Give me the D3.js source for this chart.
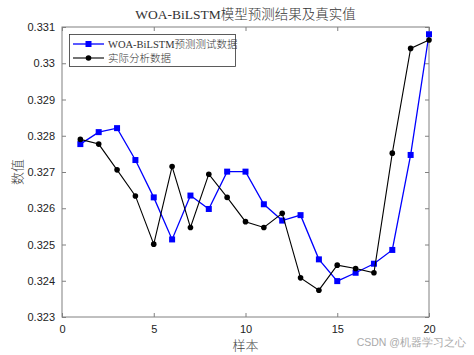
<!DOCTYPE html>
<html><head><meta charset="utf-8">
<script src="https://cdn.jsdelivr.net/npm/d3@7"></script>
<style>body{margin:0;background:#fff}svg{display:block}</style>
</head><body><div id="chart"></div>
<script>
const samples = [1,2,3,4,5,6,7,8,9,10,11,12,13,14,15,16,17,18,19,20];
const predicted = [0.32777,0.32810,0.32821,0.32733,0.32630,0.32514,0.32635,0.32598,0.32701,0.32701,0.32611,0.32566,0.32581,0.32459,0.32399,0.32422,0.32447,0.32485,0.32747,0.33080];
const actual = [0.32790,0.32777,0.32706,0.32634,0.32501,0.32715,0.32547,0.32694,0.32630,0.32563,0.32547,0.32586,0.32408,0.32374,0.32443,0.32434,0.32422,0.32752,0.33041,0.33064];
const xTicks = [0,5,10,15,20];
const yTicks = [0.323,0.324,0.325,0.326,0.327,0.328,0.329,0.33,0.331];
const yTickLabels = ["0.323","0.324","0.325","0.326","0.327","0.328","0.329","0.33","0.331"];
const seriesNames = ["WOA-BiLSTM预测测试数据","实际分析数据"];
const title = "WOA-BiLSTM模型预测结果及真实值";

const W = 474, H = 355;
const L = 62, R = 429, T = 27, B = 317;
const svg = d3.select("#chart").append("svg").attr("width", W).attr("height", H);
const x = d3.scaleLinear().domain([0,20]).range([L,R]);
const y = d3.scaleLinear().domain([0.323,0.331]).range([B,T]);
const axisColor = "#808080";
const sans = "'Liberation Sans', Arial, sans-serif";
const serif = "'Liberation Serif', 'Times New Roman', 'Noto Sans CJK SC', serif";

// box
svg.append("rect").attr("x",L).attr("y",T).attr("width",R-L).attr("height",B-T)
  .attr("fill","none").attr("stroke",axisColor).attr("stroke-width",1);

const tl = 4;
const gx = svg.append("g").attr("transform",`translate(0,${B})`)
  .call(d3.axisBottom(x).tickValues(xTicks).tickSize(-tl).tickPadding(8).tickFormat(d3.format("d")));
const gxt = svg.append("g").attr("transform",`translate(0,${T})`)
  .call(d3.axisTop(x).tickValues(xTicks).tickSize(-tl).tickFormat(""));
const gy = svg.append("g").attr("transform",`translate(${L},0)`)
  .call(d3.axisLeft(y).tickValues(yTicks).tickSize(-tl).tickPadding(7).tickFormat((d,i)=>yTickLabels[i]));
const gyr = svg.append("g").attr("transform",`translate(${R},0)`)
  .call(d3.axisRight(y).tickValues(yTicks).tickSize(-tl).tickFormat(""));
[gx,gxt,gy,gyr].forEach(g=>{
  g.select(".domain").remove();
  g.selectAll(".tick line").attr("stroke",axisColor);
  g.selectAll("text").attr("fill","#222").style("font-family",sans).style("font-size","11px");
});

// lines
const line = d3.line().x((d,i)=>x(samples[i])).y(d=>y(d));
svg.append("path").datum(predicted).attr("d",line).attr("fill","none")
  .attr("stroke","#0000ff").attr("stroke-width",1.3);
svg.append("g").selectAll("rect").data(predicted).join("rect")
  .attr("x",(d,i)=>x(samples[i])-3).attr("y",d=>y(d)-3).attr("width",6).attr("height",6)
  .attr("fill","#0000ff");
svg.append("path").datum(actual).attr("d",line).attr("fill","none")
  .attr("stroke","#000").attr("stroke-width",1.1);
svg.append("g").selectAll("circle").data(actual).join("circle")
  .attr("cx",(d,i)=>x(samples[i])).attr("cy",d=>y(d)).attr("r",2.8).attr("fill","#000");

// title
svg.append("text").attr("x",(L+R)/2).attr("y",19).attr("text-anchor","middle")
  .style("font-family",serif).style("font-size","13.5px").style("font-weight","300").attr("fill","#333").text(title);
// axis labels
svg.append("text").attr("x",(L+R)/2).attr("y",350).attr("text-anchor","middle")
  .style("font-family",serif).style("font-size","13px").style("font-weight","300").attr("fill","#444").text("样本");
svg.append("text").attr("transform",`translate(22,${(T+B)/2}) rotate(-90)`).attr("text-anchor","middle")
  .style("font-family",serif).style("font-size","13px").style("font-weight","300").attr("fill","#444").text("数值");

// legend
const lg = svg.append("g");
lg.append("rect").attr("x",69.5).attr("y",34.5).attr("width",166).attr("height",32)
  .attr("fill","#fff").attr("stroke","#333").attr("stroke-width",0.8);
const ly = [44, 58];
lg.append("line").attr("x1",73).attr("x2",104).attr("y1",ly[0]).attr("y2",ly[0]).attr("stroke","#0000ff").attr("stroke-width",1.3);
lg.append("rect").attr("x",85.5).attr("y",ly[0]-3).attr("width",6).attr("height",6).attr("fill","#0000ff");
lg.append("line").attr("x1",73).attr("x2",104).attr("y1",ly[1]).attr("y2",ly[1]).attr("stroke","#000").attr("stroke-width",1.1);
lg.append("circle").attr("cx",88.5).attr("cy",ly[1]).attr("r",2.8).attr("fill","#000");
seriesNames.forEach((n,i)=>{
  lg.append("text").attr("x",108).attr("y",ly[i]+4).style("font-family",serif)
    .style("font-size","10.5px").style("font-weight","300").attr("fill","#333").text(n);
});

// watermark
svg.append("text").attr("x",466).attr("y",346).attr("text-anchor","end")
  .style("font-family",sans).style("font-size","10.5px").attr("fill","#aaa").text("CSDN @机器学习之心");
</script></body></html>
